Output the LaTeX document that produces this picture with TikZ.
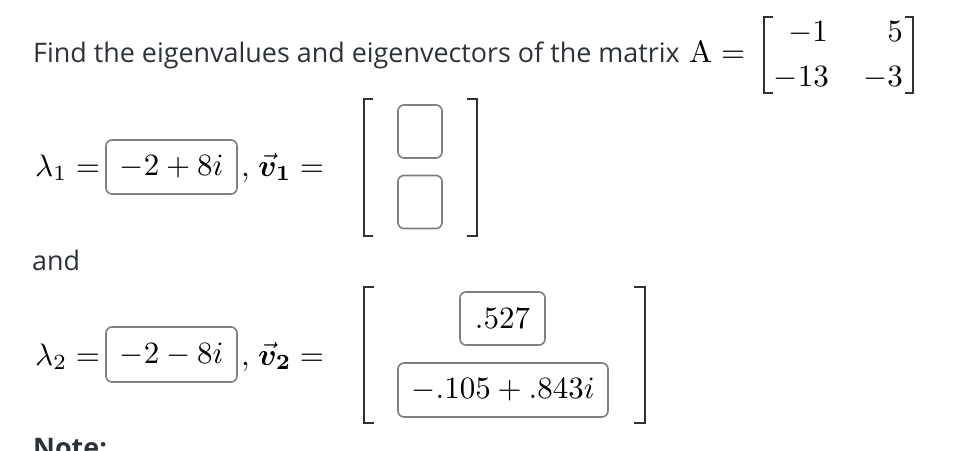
\documentclass[tikz,border=0pt]{standalone}
\usepackage{amsmath}
\usepackage{bm}
\usepackage{graphicx}
\usepackage[no-math]{fontspec}
\setmainfont{Open Sans}
\definecolor{ink}{HTML}{2D3238}
\definecolor{boxline}{HTML}{7F7F7F}
\tikzset{
  x=1pt,y=-1pt,
  answer/.style={draw=boxline,line width=1.6pt,rounded corners=6pt,inner sep=0pt,text=black,anchor=center},
  plain/.style={inner sep=0pt,anchor=base west,text=ink},
  mathlabel/.style={inner sep=0pt,anchor=base west,text=black},
  brk/.style={draw=ink,line width=2.2pt},
  thinbrk/.style={draw=ink,line width=1.4pt},
}
\newcommand{\bodyfont}{\fontsize{26.9}{30}\selectfont}
\newcommand{\mth}[1]{\scalebox{3.1}{$#1$}}
\begin{document}
\begin{tikzpicture}
\useasboundingbox (0,0) rectangle (958,450);
\clip (0,0) rectangle (958,450);
\fill[white] (0,0) rectangle (958,450);
\node[plain] (find) at (33,62) {\bodyfont Find the eigenvalues and eigenvectors of the matrix};
\node[mathlabel] (A) at (689,62) {\mth{\mathrm{A}=}};
\node[mathlabel,anchor=base east] (a11) at (828,41) {\mth{-1}};
\node[mathlabel,anchor=base east] (a12) at (903,41) {\mth{5}};
\node[mathlabel,anchor=base east] (a21) at (829,86) {\mth{-13}};
\node[mathlabel,anchor=base east] (a22) at (903,86) {\mth{-3}};
\draw[thinbrk] (773,17) -- (764,17) -- (764,93) -- (773,93);
\draw[thinbrk] (905,17) -- (913,17) -- (913,93) -- (905,93);

\node[mathlabel] (l1) at (35,176) {\mth{\lambda_1=}};
\node[answer,minimum width=131pt,minimum height=54pt] (b1) at (171.5,167) {\mth{-2+8i}};
\node[mathlabel] (c1) at (241,176) {\mth{,}};
\node[mathlabel] (v1) at (258,176) {\mth{\vec{\bm v}_{\bm 1}=}};
\node[answer,minimum width=44pt,minimum height=53pt] (b1a) at (420,131.5) {};
\node[answer,minimum width=44pt,minimum height=53pt] (b1b) at (420,202) {};
\draw[brk] (373,99) -- (364,99) -- (364,236) -- (373,236);
\draw[brk] (467,99) -- (477,99) -- (477,236) -- (467,236);

\node[plain] (and) at (32,270) {\bodyfont and};

\node[mathlabel] (l2) at (35,365) {\mth{\lambda_2=}};
\node[answer,minimum width=131pt,minimum height=55pt] (b2) at (171.5,354.5) {\mth{-2-8i}};
\node[mathlabel] (c2) at (241,365) {\mth{,}};
\node[mathlabel] (v2) at (258,365) {\mth{\vec{\bm v}_{\bm 2}=}};
\node[answer,minimum width=85pt,minimum height=53pt] (b2a) at (502.5,318.5) {\mth{.527}};
\node[answer,minimum width=210pt,minimum height=54pt] (b2b) at (503,390) {\mth{-.105+.843i}};
\draw[brk] (374,287) -- (364,287) -- (364,423) -- (374,423);
\draw[brk] (634,287) -- (645,287) -- (645,423) -- (634,423);

\node[plain] (note) at (33,457) {\bodyfont\bfseries Note:};
\end{tikzpicture}
\end{document}
